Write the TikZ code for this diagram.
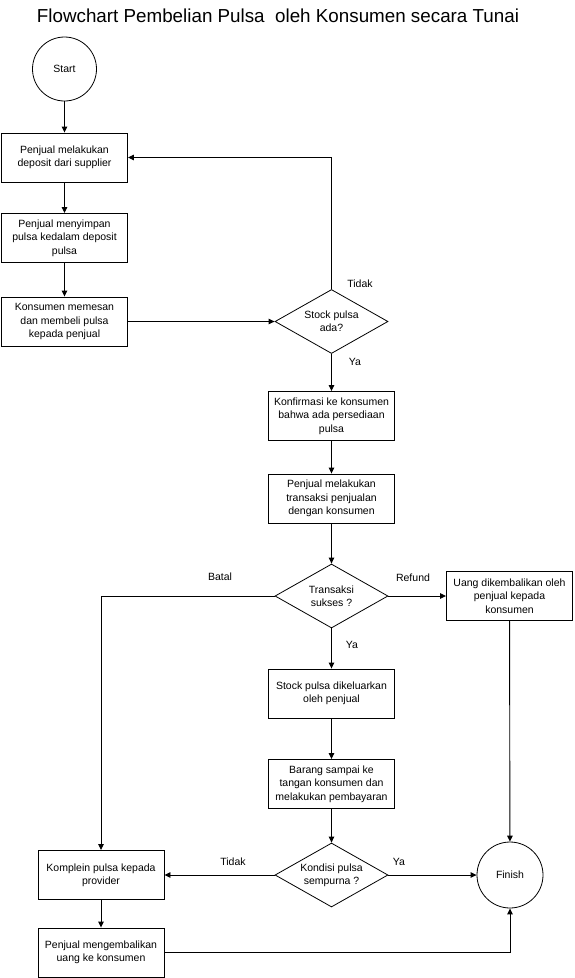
\documentclass[tikz,border=0pt]{standalone}
\usepackage{fontspec}
\setmainfont{Liberation Sans}
\usetikzlibrary{shapes.geometric,arrows.meta}
\begin{document}
\begin{tikzpicture}[x=1pt,y=-1pt,
 every node/.style={font=\fontsize{10.5}{13.3}\selectfont},
 proc/.style={draw, line width=0.9pt, minimum width=126pt, minimum height=49pt, inner sep=0pt, align=center},
 dec/.style={draw, shape=diamond, line width=0.8pt, minimum width=113pt, minimum height=64pt, inner sep=0pt, align=center, aspect=1.77},
 term/.style={draw, circle, line width=0.8pt, minimum size=64pt, inner sep=0pt},
 flow/.style={line width=0.9pt, -{Triangle[length=6pt,width=5.5pt]}},
 lbl/.style={inner sep=0pt}
]
\useasboundingbox (0,0) rectangle (574,978);
\node[font=\fontsize{18.8}{22}\selectfont] (title) at (278,16) {Flowchart Pembelian Pulsa\ \ oleh Konsumen secara Tunai};

\node[term] (start) at (64.5,69) {Start};
\node[proc] (b1) at (64.5,157.5) {Penjual melakukan\\deposit dari supplier};
\node[proc] (b2) at (64.5,238) {Penjual menyimpan\\pulsa kedalam deposit\\pulsa};
\node[proc] (b3) at (64.5,321.5) {Konsumen memesan\\dan membeli pulsa\\kepada penjual};
\node[dec] (d1) at (331.5,321.5) {Stock pulsa\\ada?};
\node[proc] (b4) at (331.5,416) {Konfirmasi ke konsumen\\bahwa ada persediaan\\pulsa};
\node[proc] (b5) at (331.5,498.5) {Penjual melakukan\\transaksi penjualan\\dengan konsumen};
\node[dec] (d2) at (331.5,596) {Transaksi\\sukses ?};
\node[proc] (b6) at (509.5,596) {Uang dikembalikan oleh\\penjual kepada\\konsumen};
\node[proc] (b7) at (331.5,693.5) {Stock pulsa dikeluarkan\\oleh penjual};
\node[proc] (b8) at (331.5,784) {Barang sampai ke\\tangan konsumen dan\\melakukan pembayaran};
\node[dec] (d3) at (331.5,875) {Kondisi pulsa\\sempurna ?};
\node[proc] (b9) at (101,875) {Komplein pulsa kepada\\provider};
\node[proc] (b10) at (101,952.5) {Penjual mengembalikan\\uang ke konsumen};
\node[term, minimum size=66pt] (fin) at (510,875) {Finish};

\draw[flow] (start) -- (b1);
\draw[flow] (b1) -- (b2);
\draw[flow] (b2) -- (b3);
\draw[flow] (b3) -- (d1);
\draw[flow] (d1.north) |- (b1.east);
\draw[flow] (d1) -- (b4);
\draw[flow] (b4) -- (b5);
\draw[flow] (b5) -- (d2);
\draw[flow] (d2.west) -| (b9.north);
\draw[flow] (d2) -- (b6);
\draw[flow] (d2) -- (b7);
\draw[flow] (b7) -- (b8);
\draw[flow] (b8) -- (d3);
\draw[flow] (d3) -- (b9);
\draw[flow] (d3) -- (fin);
\draw[flow] (b6) -- (fin);
\draw[flow] (b9) -- (b10);
\draw[flow] (b10.east) -| (fin.south);

\node[lbl] (l1) at (360,284) {Tidak};
\node[lbl] (l2) at (355,362) {Ya};
\node[lbl] (l3) at (220,577) {Batal};
\node[lbl] (l4) at (413,578) {Refund};
\node[lbl] (l5) at (352,645) {Ya};
\node[lbl] (l6) at (233,862) {Tidak};
\node[lbl] (l7) at (399,862) {Ya};
\end{tikzpicture}
\end{document}
